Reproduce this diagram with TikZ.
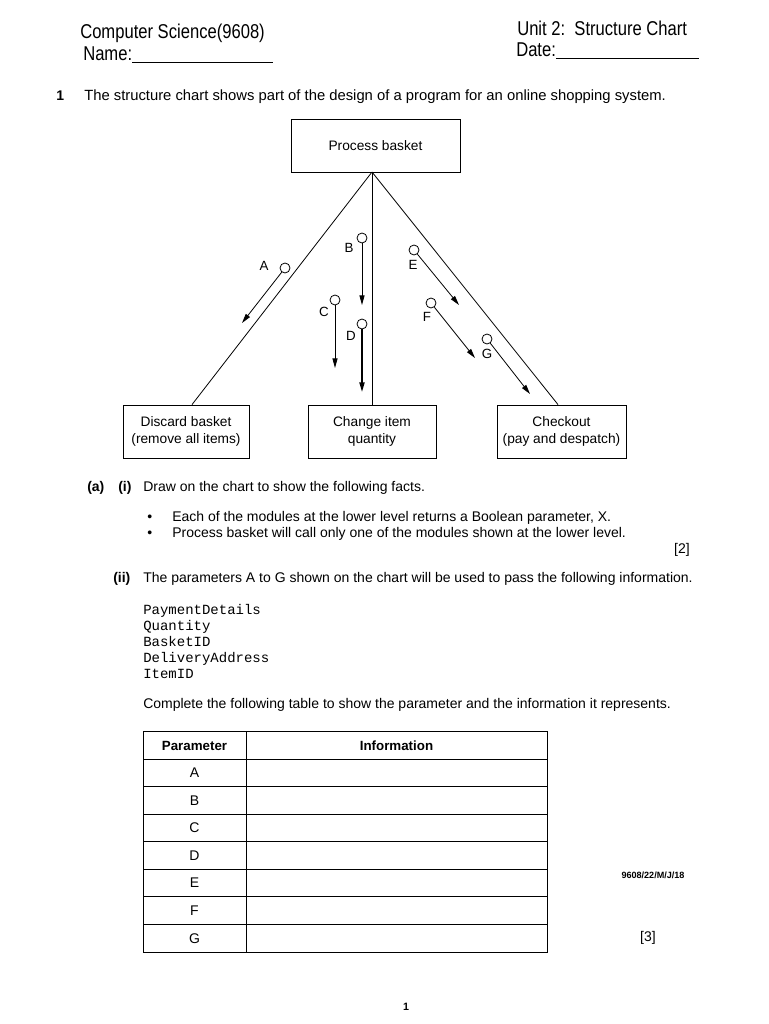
\documentclass[tikz,border=0pt]{standalone}
\usepackage{fontspec}
\setmainfont{Liberation Sans}
\setmonofont{Liberation Mono}
\newfontfamily\narrowfont[FakeStretch=0.83]{Liberation Sans}
\usetikzlibrary{arrows.meta,calc}

\begin{document}
\begin{tikzpicture}[
  x=0.75pt,y=-0.75pt,
  font=\fontsize{10.5}{12}\selectfont,
  >={Triangle[length=7.2pt,width=3.8pt]},
  module/.style={rectangle,draw,line width=0.6pt,minimum height=39.75pt,align=center,
    inner sep=2pt,font=\fontsize{10.3}{12.5}\selectfont},
  param/.style={circle,draw,line width=0.6pt,minimum size=7.5pt,inner sep=0pt},
  flow/.style={->,line width=0.6pt},
  call/.style={line width=0.6pt},
  tag/.style={font=\fontsize{10}{12}\selectfont},
  txt/.style={anchor=west,inner sep=0pt,text height=0.72em,text depth=0.21em},
  head/.style={anchor=west,inner sep=0pt,font=\narrowfont\fontsize{15}{17}\selectfont},
  code/.style={anchor=west,inner sep=0pt,text height=0.72em,text depth=0.21em,
    font=\ttfamily\fontsize{10.5}{12}\selectfont},
  cell/.style={rectangle,draw,line width=0.6pt,minimum height=20.68pt,inner sep=0pt},
  pcell/.style={cell,minimum width=77.25pt},
  icell/.style={cell,minimum width=225.75pt}
]
\useasboundingbox (0,0) rectangle (768,1024);

% Page header
\node[head] (subj) at (80,33) {Computer Science(9608)};
\node[head] (name) at (83,55) {Name:\rule[-0.12em]{106pt}{0.6pt}};
\node[head] (unit) at (517,28) {Unit 2:\ \ Structure Chart};
\node[head] (date) at (516,51) {Date:\rule[-0.12em]{107pt}{0.6pt}};

% Question
\node[txt,font=\bfseries\fontsize{10.5}{12}\selectfont] (qnum) at (56,97) {1};
\node[txt,font=\fontsize{11.1}{13}\selectfont] (qtext) at (84,97) {The structure chart shows part of the design of a program for an online shopping system.};

% Structure chart modules
\node[module,minimum width=126.75pt] (proc) at (375.5,145.5) {Process basket};
\node[module,minimum width=94.5pt] (disc) at (186,431.5) {Discard basket\\(remove all items)};
\node[module,minimum width=96pt] (chg) at (372,431.5) {Change item\\quantity};
\node[module,minimum width=96.75pt] (chk) at (561.5,431.5) {Checkout\\(pay and despatch)};
\coordinate (apex) at (372,172);

% Calls
\draw[call] (apex) -- ([xshift=4.5pt]disc.north);
\draw[call] (apex) -- (chg.north);
\draw[call] (apex) -- ([xshift=-2.6pt]chk.north);

% Parameters
\node[param] (pa) at (285,268) {};
\node[param] (pb) at (362,238) {};
\node[param] (pc) at (335,300) {};
\node[param] (pd) at (362,324) {};
\node[param] (pe) at (414,250) {};
\node[param] (pf) at (431,303) {};
\node[param] (pg) at (487,339) {};
\coordinate (ea) at (242,323);
\coordinate (eb) at (362,305);
\coordinate (ec) at (335,368);
\coordinate (ed) at (362,392);
\coordinate (ee) at (459,305);
\coordinate (ef) at (475,358);
\coordinate (eg) at (530,394);
\draw[flow] (pa) -- (ea);
\draw[flow] (pb) -- (eb);
\draw[flow] (pc) -- (ec);
\draw[flow,line width=1.2pt] (pd) -- (ed);
\draw[flow] (pe) -- (ee);
\draw[flow] (pf) -- (ef);
\draw[flow] (pg) -- (eg);
\node[tag] (la) at (264,266) {A};
\node[tag] (lb) at (349,248) {B};
\node[tag] (lc) at (324,312) {C};
\node[tag] (ld) at (351,336) {D};
\node[tag] (le) at (413,265) {E};
\node[tag] (lf) at (427,317) {F};
\node[tag] (lg) at (487,354) {G};

% Part (a)(i)
\node[txt,font=\bfseries\fontsize{10.5}{12}\selectfont] (pta) at (87,488) {(a)};
\node[txt,font=\bfseries\fontsize{10.5}{12}\selectfont] (pti) at (118,488) {(i)};
\node[txt] (ai) at (143,488) {Draw on the chart to show the following facts.};
\node[txt] (b1) at (147,518) {\textbullet};
\node[txt] (f1) at (172,518) {Each of the modules at the lower level returns a Boolean parameter, X.};
\node[txt] (b2) at (147,534) {\textbullet};
\node[txt] (f2) at (172,534) {Process basket will call only one of the modules shown at the lower level.};
\node[anchor=east,inner sep=0pt] (m2) at (690,550) {[2]};

% Part (a)(ii)
\node[txt,font=\bfseries\fontsize{10.5}{12}\selectfont] (ptii) at (113,579) {(ii)};
\node[txt] (aii) at (143,579) {The parameters A to G shown on the chart will be used to pass the following information.};
\node[code] (c1) at (143,611) {PaymentDetails};
\node[code] (c2) at (143,627) {Quantity};
\node[code] (c3) at (143,643) {BasketID};
\node[code] (c4) at (143,659) {DeliveryAddress};
\node[code] (c5) at (143,675) {ItemID};
\node[txt] (task) at (143,705) {Complete the following table to show the parameter and the information it represents.};

% Table
\node[pcell,font=\bfseries\fontsize{10}{11}\selectfont] (th1) at (194.5,745.5) {Parameter};
\node[icell,font=\bfseries\fontsize{10}{11}\selectfont] (th2) at (396.5,745.5) {Information};
\node[pcell] (ta) at (194.5,772.8) {A};
\node[pcell] (tb) at (194.5,800.4) {B};
\node[pcell] (tc) at (194.5,827.9) {C};
\node[pcell] (td) at (194.5,855.5) {D};
\node[pcell] (te) at (194.5,883.1) {E};
\node[pcell] (tf) at (194.5,910.6) {F};
\node[pcell] (tg) at (194.5,938.2) {G};
\node[icell] (ia) at (396.5,772.8) {};
\node[icell] (ib) at (396.5,800.4) {};
\node[icell] (ic) at (396.5,827.9) {};
\node[icell] (id) at (396.5,855.5) {};
\node[icell] (ie) at (396.5,883.1) {};
\node[icell] (if) at (396.5,910.6) {};
\node[icell] (ig) at (396.5,938.2) {};

% Footer
\node[font=\bfseries\fontsize{6.8}{8}\selectfont] (ref) at (653,875) {9608/22/M/J/18};
\node (m3) at (648,938) {[3]};
\node[font=\bfseries\fontsize{8}{9}\selectfont] (page) at (406,1007) {1};

\end{tikzpicture}
\end{document}
